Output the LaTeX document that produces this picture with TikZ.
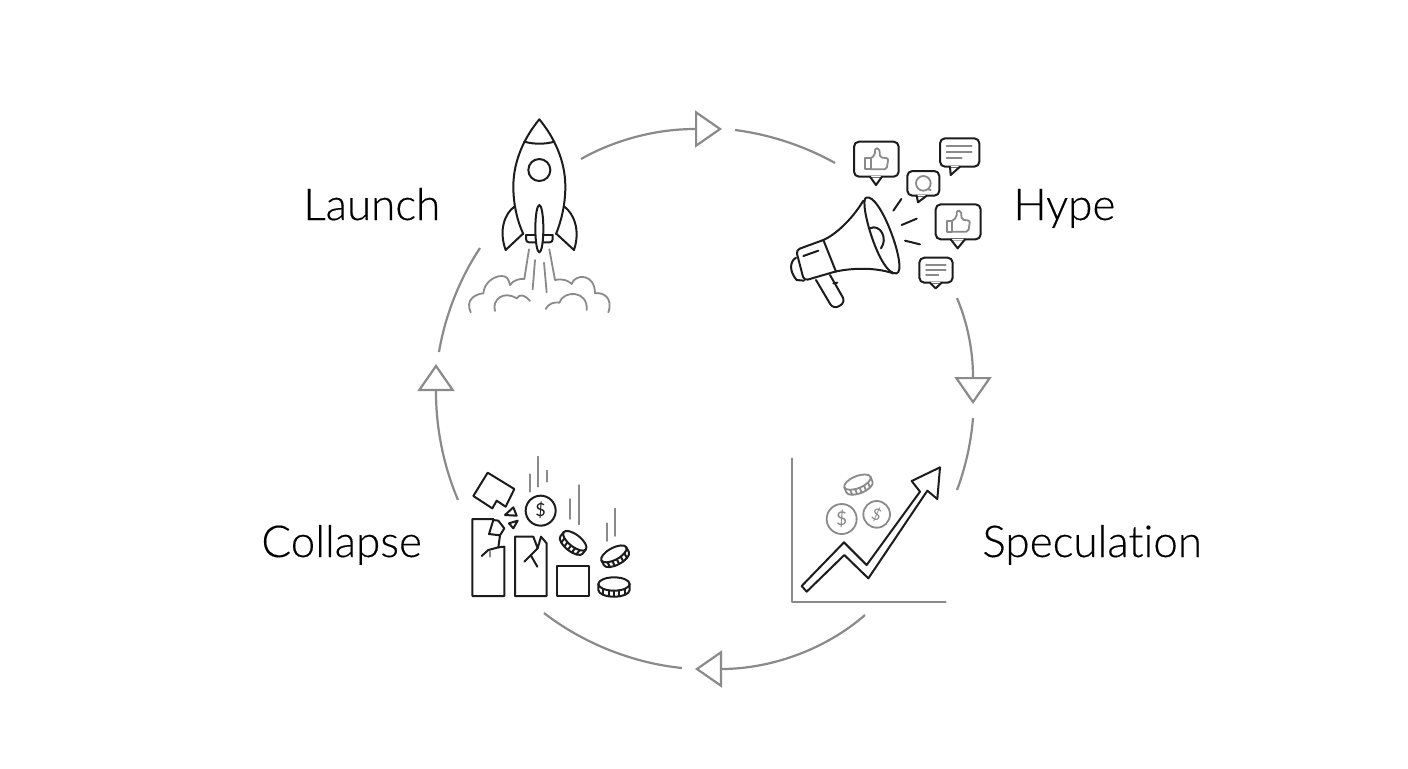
\documentclass[tikz,border=0pt]{standalone}
\usepackage{fontspec}
\setmainfont{Lato}[UprightFont=* Light,UprightFeatures={FakeBold=.3},Ligatures=NoCommon]
\newfontfamily\coinfont{Lato}
\usetikzlibrary{arrows.meta}
\definecolor{ringgray}{HTML}{8A8A8A}
\definecolor{iconink}{HTML}{1C1C1C}
\tikzset{
 ring/.style={draw=ringgray,line width=1.1pt,looseness=.85},
 ringtip/.style={ring,-{Triangle[open,length=13.5pt,width=18.5pt]}},
 ink/.style={draw=iconink,line width=1pt,line join=round,line cap=round},
 soft/.style={draw=ringgray,line width=.9pt,line join=round,line cap=round},
 steplabel/.style={anchor=base west,inner sep=0pt,font=\fontsize{22}{26}\selectfont,text=black},
 bubble/.style={ink,rounded corners=2.5},
 thumbicon/.pic={
  \draw[soft] (-35,-5) rectangle (-18,28);
  \draw[soft,rounded corners=1] (-18,-5)--(-5,-15)--(-5,-35)--(8,-35)--(10,-8)--(35,-5)--(30,28)--(-18,28);
 },
 coinicon/.pic={
  \draw[pic actions] (0,-8) ellipse (47 and 20);
  \draw[pic actions] (-47,-8)--(-47,10) arc (180:0:47 and 20)--(47,-8);
  \foreach \tx in {-32,-16,0,16,32}
   \draw[pic actions] (\tx,{-8+20*sqrt(1-(\tx/47)^2)})--(\tx,{10+20*sqrt(1-(\tx/47)^2)});
 }
}
\begin{document}
\begin{tikzpicture}[x=.5pt,y=-.5pt]
 \useasboundingbox (0,0) rectangle (1408,768);
 \fill[white] (0,0) rectangle (1408,768);
 \coordinate (aa) at (581,159);
 \coordinate (ab) at (695,129);
 \coordinate (ac) at (722,129);
 \coordinate (ba) at (735,130);
 \coordinate (bb) at (835,163);
 \coordinate (ca) at (957,298);
 \coordinate (cb) at (973,377);
 \coordinate (cc) at (973,404);
 \coordinate (da) at (973,418);
 \coordinate (db) at (957,490);
 \coordinate (ea) at (865,615);
 \coordinate (eb) at (721,669);
 \coordinate (ec) at (695,669);
 \coordinate (fa) at (682,668);
 \coordinate (fb) at (544,613);
 \coordinate (ga) at (458,500);
 \coordinate (gb) at (436,392);
 \coordinate (gc) at (436,364);
 \coordinate (ha) at (439,352);
 \coordinate (hb) at (480,248);
 \draw[ringtip] (aa) to[bend left=14.7] (ab)--(ac);
 \draw[ring] (ba) to[bend left=11] (bb);
 \draw[ringtip] (ca) to[bend left=11.4] (cb)--(cc);
 \draw[ring] (da) to[bend left=8] (db);
 \draw[ringtip] (ea) to[bend left=20.6] (eb)--(ec);
 \draw[ring] (fa) to[bend left=16] (fb);
 \draw[ringtip] (ga) to[bend left=11.5] (gb)--(gc);
 \draw[ring] (ha) to[bend left=12] (hb);
 \node[steplabel] (launch) at (303,220) {Launch};
 \node[steplabel] (hype) at (1013,220) {Hype};
 \node[steplabel] (speculation) at (982,557) {Speculation};
 \node[steplabel] (collapse) at (261,557) {Collapse};
 \begin{scope}[shift={(460,110)},scale=1/3]
  \draw[ink] (238,28) .. controls (195,80) and (160,150) .. (160,230) .. controls (160,290) and (175,340) .. (190,372);
  \draw[ink] (238,28) .. controls (281,80) and (316,150) .. (316,230) .. controls (316,290) and (301,340) .. (288,372);
  \draw[ink] (193,95) .. controls (220,103) and (256,103) .. (283,95);
  \draw[ink] (238,180) circle (33);
  \draw[ink] (163,290) .. controls (135,310) and (115,360) .. (137,420)--(188,372);
  \draw[ink] (313,290) .. controls (341,310) and (362,360) .. (342,420)--(290,372);
  \draw[ink,rounded corners=1.5] (198,375)--(198,397)--(278,397)--(278,375);
  \draw[ink,fill=white] (238,356) ellipse (12 and 71);
  \draw[ink] (198,375)--(226,375) (250,375)--(278,375);
  \draw[soft] (207,418)--(193,507) .. controls (180,505) and (160,510) .. (150,525) .. controls (145,505) and (140,498) .. (125,498) .. controls (100,498) and (72,520) .. (70,550) .. controls (45,552) and (15,570) .. (32,607);
  \draw[soft] (268,418)--(285,510) .. controls (310,505) and (325,512) .. (335,522) .. controls (345,490) and (405,490) .. (405,550) .. controls (430,545) and (460,565) .. (445,607);
  \draw[soft] (225,450)--(218,538) (252,458)--(260,547);
  \draw[soft] (105,603) .. controls (95,570) and (130,540) .. (170,565) .. controls (180,550) and (195,555) .. (210,573);
  \draw[soft] (257,597) .. controls (265,580) and (285,575) .. (298,578) .. controls (310,540) and (385,540) .. (380,600);
 \end{scope}
 \begin{scope}[shift={(780,130)},scale=1/3]
  \draw[ink] (258,203) .. controls (235,215) and (300,440) .. (350,430) .. controls (385,420) and (300,185) .. (258,203);
  \draw[ink] (250,212) .. controls (215,270) and (165,315) .. (130,330);
  \draw[ink] (340,430) .. controls (280,410) and (210,415) .. (165,425);
  \draw[ink,rounded corners=2] (130,330)--(48,360)--(72,452)--(165,425);
  \draw[ink] (48,383) .. controls (28,395) and (28,425) .. (50,450)--(72,452);
  \draw[ink] (130,330)--(168,425) (70,378)--(115,362);
  \draw[ink] (270,295) .. controls (300,280) and (325,325) .. (303,355);
  \draw[ink,rounded corners=3] (108,450)--(160,538)--(197,517)--(150,435);
  \draw[ink] (160,460)--(172,458);
  \draw[ink] (340,242)--(364,207) (365,285)--(410,266) (375,332)--(420,343);
  \draw[bubble] (222,35) rectangle (356,140);
  \fill[white] (270,138) rectangle (306,142);
  \draw[ink] (270,140)--(288,165)--(306,140);
  \pic[scale=1/3] at (290,90) {thumbicon};
  \draw[bubble] (480,25) rectangle (598,110);
  \fill[white] (510,108) rectangle (540,112);
  \draw[ink] (510,110)--(512,135)--(540,110);
  \draw[soft] (500,48)--(575,48) (500,67)--(575,67) (500,85)--(545,85);
  \draw[bubble] (382,123) rectangle (478,197);
  \fill[white] (410,195) rectangle (440,199);
  \draw[ink] (410,197)--(414,217)--(440,197);
  \draw[soft] (452,180)--(445,178) (430,160) circle (22);
  \draw[bubble] (467,223) rectangle (602,328);
  \fill[white] (512,326) rectangle (555,330);
  \draw[ink] (512,328)--(533,355)--(555,328);
  \pic[scale=1/3] at (535,277) {thumbicon};
  \draw[bubble] (418,383) rectangle (518,458);
  \fill[white] (450,456) rectangle (485,460);
  \draw[ink] (450,458)--(467,475)--(485,458);
  \draw[soft] (438,405)--(497,405) (438,420)--(497,420) (438,436)--(475,436);
 \end{scope}
 \begin{scope}[shift={(780,450)},scale=1/3]
  \draw[soft] (37,25)--(37,455)--(497,455);
  \draw[ink] (65,408)--(192,277)--(260,345)--(420,125)--(395,93)--(480,52)--(472,147)--(442,122)--(265,385)--(193,315)--(80,425)--cycle;
  \pic[soft,rotate=22,scale=.3] at (235,103) {coinicon};
  \draw[soft] (185,207) circle (45);
  \node[text=ringgray,font=\coinfont\fontsize{9.5}{10}\selectfont] (coinl) at (185,207) {\$};
  \draw[soft] (290,193) circle (40);
  \node[text=ringgray,font=\coinfont\fontsize{8}{9}\selectfont,rotate=-20] (coinr) at (290,193) {\$};
 \end{scope}
 \begin{scope}[shift={(465,450)},scale=1/3]
  \draw[ink] (68,68)--(148,117)--(122,170)--(95,152)--(82,175)--(25,138)--cycle;
  \draw[ink] (145,172)--(120,195)--(155,197)--cycle (158,212)--(132,220)--(145,235)--cycle;
  \draw[soft] (194,73)--(194,125) (220,20)--(220,110) (246,62)--(246,95) (316,147)--(316,207) (342,105)--(342,223) (425,220)--(425,273) (451,176)--(451,258);
  \draw[ink] (227,182) circle (45);
  \node[text=iconink,font=\coinfont\fontsize{9}{10}\selectfont] (coinm) at (227,182) {\$};
  \draw[ink] (85,207)--(22,207)--(22,438)--(118,438)--(118,290)--(100,292)--(105,256)--(72,252)--(85,210)--(100,212)--(118,235)--(105,256);
  \draw[ink] (100,292)--(70,300)--(50,318);
  \draw[soft] (75,305)--(75,320);
  \draw[ink] (205,260)--(150,260)--(150,438)--(245,438)--(245,280)--(228,260)--(218,295)--(205,260);
  \draw[ink] (218,295)--(178,335) (197,315)--(217,350);
  \draw[ink] (277,348) rectangle (371,438);
  \pic[ink,rotate=-38,scale=.3] at (325,278) {coinicon};
  \pic[ink,rotate=28,scale=.3] at (450,318) {coinicon};
  \pic[ink,scale=1/3] at (447,410) {coinicon};
 \end{scope}
\end{tikzpicture}
\end{document}
